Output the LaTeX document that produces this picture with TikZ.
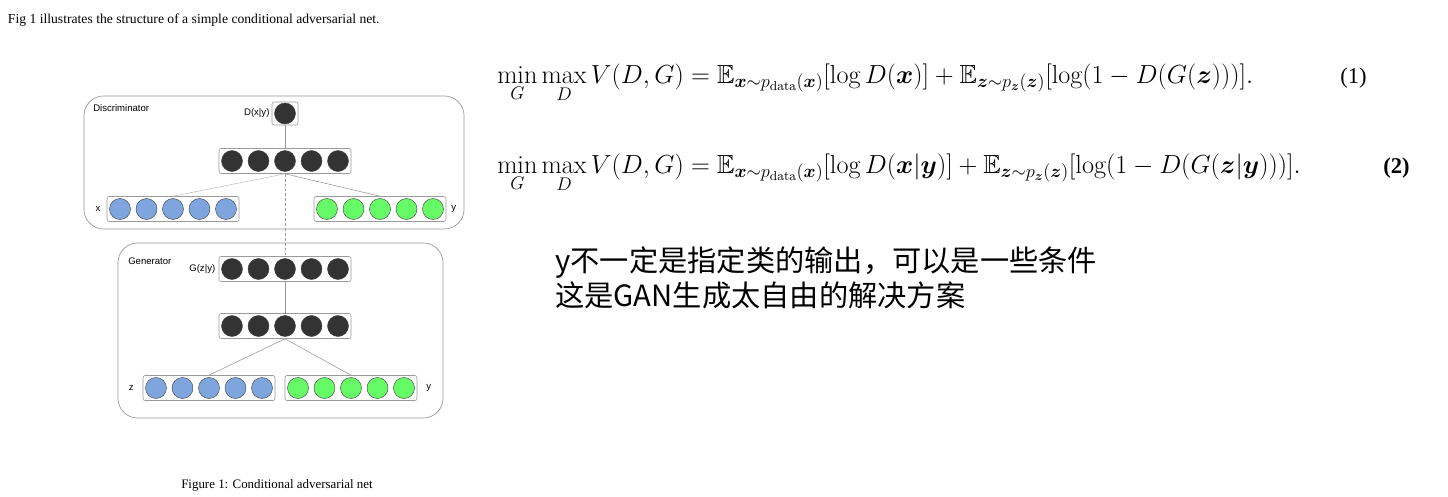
\RequirePackage{fix-cm}
\documentclass[tikz,border=0pt]{standalone}
\usepackage{amsmath}
\usepackage{amssymb}
\usepackage{fontspec}
\setsansfont{Liberation Sans}
\newfontfamily\paperfont{Liberation Serif}
\newfontfamily\cjkfont{Noto Sans CJK SC}
\usepackage{xcolor}
\usetikzlibrary{positioning}

\definecolor{unitdark}{HTML}{333333}
\definecolor{unitblue}{HTML}{7FA5DF}
\definecolor{unitgreen}{HTML}{66FA66}
\definecolor{boxgray}{HTML}{9A9A9A}

\begin{document}
\begin{tikzpicture}
			[x=0.025cm, y=-0.025cm]
			
			\tikzstyle{outer} = [rectangle, rounded corners=14pt, draw=boxgray, line width=0.5pt]
			
			\tikzstyle{layer} = [rectangle, rounded corners=1.5pt, minimum width=3.3cm, minimum height=0.625cm, inner sep=0pt, draw=boxgray, line width=0.4pt]
			
			\tikzstyle{unit} = [circle, minimum size=0.525cm, inner sep=0pt, draw=black!75, line width=0.3pt]
			
			\tikzstyle{hidden} = [unit, fill=unitdark]
			\tikzstyle{xunit} = [unit, fill=unitblue]
			\tikzstyle{yunit} = [unit, fill=unitgreen]
			
			\tikzstyle{lbl} = [font=\sffamily\fontsize{6.8}{7}\selectfont, inner sep=0pt]
			
			\tikzstyle{link} = [boxgray, line width=0.4pt]
			
			\tikzstyle{eqn} = [anchor=base west, inner sep=0pt, font=\fontsize{18.6}{22}\selectfont]
			
			\useasboundingbox (0,0) rectangle (1448,496);
			
			% page text
			\node (intro) [anchor=west, font=\paperfont\fontsize{9.7}{11}\selectfont] at (3,20) {Fig 1 illustrates the structure of a simple conditional adversarial net.};
			\node (caption) [font=\paperfont\fontsize{9.2}{11}\selectfont] at (277,485) {Figure 1: Conditional adversarial net};
			
			% outer boxes
			\node (disc) [outer, minimum width=9.5cm, minimum height=3.325cm] at (274,162.5) {};
			\node (gen) [outer, minimum width=8.125cm, minimum height=4.375cm] at (280.5,330.5) {};
			\node (disclbl) [lbl, anchor=west] at (93,108) {Discriminator};
			\node (genlbl) [lbl, anchor=west] at (128,261) {Generator};
			
			% discriminator
			\node (dtop) [layer, minimum width=0.65cm, minimum height=0.575cm] at (285,113.5) {};
			\node (dout) [hidden] at (285,113.5) {};
			\node (dtoplbl) [lbl, left=0.05cm of dtop] {D(x|y)};
			\node (dmid) [layer] at (285,161) {};
			\node (dx) [layer] at (173,209) {};
			\node (dy) [layer] at (380,209) {};
			\foreach \i in {1,...,5} {
				\node (dmid\i) [hidden] at (205.5+26.5*\i,161) {};
				\node (dx\i) [xunit] at (93.5+26.5*\i,209) {};
				\node (dy\i) [yunit] at (300.5+26.5*\i,209) {};
			}
			\node (dxlbl) [lbl, left=0.15cm of dx] {x};
			\node (dylbl) [lbl, right=0.12cm of dy] {y};
			
			% generator
			\node (gtop) [layer] at (285,269) {};
			\node (gmid) [layer] at (285,326) {};
			\node (gz) [layer] at (209,388) {};
			\node (gy) [layer] at (351,388) {};
			\foreach \i in {1,...,5} {
				\node (gtop\i) [hidden] at (205.5+26.5*\i,269) {};
				\node (gmid\i) [hidden] at (205.5+26.5*\i,326) {};
				\node (gz\i) [xunit] at (129.5+26.5*\i,388) {};
				\node (gy\i) [yunit] at (271.5+26.5*\i,388) {};
			}
			\node (gtoplbl) [lbl, left=0.08cm of gtop] {G(z|y)};
			\node (gzlbl) [lbl, left=0.22cm of gz] {z};
			\node (gylbl) [lbl, right=0.22cm of gy] {y};
			
			% connections
			\draw [link] (dmid.north) -- (dtop.south);
			\draw [link, boxgray!60] (dmid.south) -- (dx.north);
			\draw [link] (dmid.south) -- (dy.north);
			\draw [link, dash pattern=on 2pt off 1.5pt] (dmid.south) -- (gtop.north);
			\draw [link] (gmid.north) -- (gtop.south);
			\draw [link] (gmid.south) -- (gz.north);
			\draw [link] (gmid.south) -- (gy.north);
			
			% equations
			\node (eqone) [eqn] at (497,83) {$\displaystyle \min_G \max_D V(D,G) = \mathbb{E}_{\boldsymbol{x}\sim p_{\text{data}}(\boldsymbol{x})}[\log D(\boldsymbol{x})] + \mathbb{E}_{\boldsymbol{z}\sim p_{\boldsymbol{z}}(\boldsymbol{z})}[\log(1-D(G(\boldsymbol{z})))].$};
			\node (eqonenum) [anchor=base east, inner sep=0pt, font=\paperfont\fontsize{16}{19}\selectfont] at (1367,83) {(1)};
			
			\node (eqtwo) [eqn] at (497,173) {$\displaystyle \min_G \max_D V(D,G) = \mathbb{E}_{\boldsymbol{x}\sim p_{\text{data}}(\boldsymbol{x})}[\log D(\boldsymbol{x}|\boldsymbol{y})] + \mathbb{E}_{\boldsymbol{z}\sim p_{\boldsymbol{z}}(\boldsymbol{z})}[\log(1-D(G(\boldsymbol{z}|\boldsymbol{y})))].$};
			\node (eqtwonum) [anchor=base east, inner sep=0pt, font=\paperfont\bfseries\fontsize{16}{19}\selectfont] at (1410,173) {(2)};
			
			% note
			\node (note) [anchor=north west, align=left, inner sep=0pt, font=\cjkfont\fontsize{20.8}{25}\selectfont] at (555,246) {y不一定是指定类的输出，可以是一些条件\\这是GAN生成太自由的解决方案};
			
\end{tikzpicture}
\end{document}
